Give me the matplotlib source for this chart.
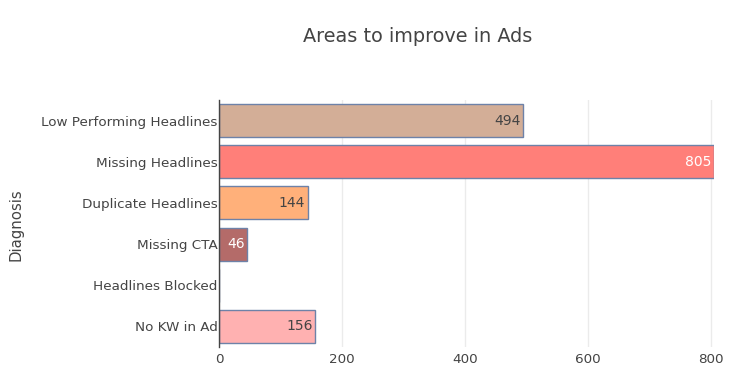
import matplotlib
matplotlib.use("Agg")
import matplotlib.pyplot as plt

categories = ["Low Performing Headlines", "Missing Headlines", "Duplicate Headlines",
              "Missing CTA", "Headlines Blocked", "No KW in Ad"]
values = [494, 805, 144, 46, 0, 156]
colors = ["#D3AE97", "#FF7F79", "#FFB07A", "#B46B69", "#FFB1B1", "#FFB1B1"]
text_colors = ["#444444", "white", "#444444", "white", "#444444", "#444444"]
xticks = [0, 200, 400, 600, 800]

plt.rcParams['font.family'] = ['DejaVu Sans']
fig = plt.figure(figsize=(7.49, 3.90), dpi=100)
W, H = 749, 390
left, right, top, bottom = 219, 714, 100, 347
ax = fig.add_axes([left / W, 1 - bottom / H, (right - left) / W, (bottom - top) / H])

ypos = list(range(len(categories)))
ax.barh(ypos, values, height=0.8, color=colors, edgecolor="#6E82A8", linewidth=1.0, zorder=3)
for y, v, tc in zip(ypos, values, text_colors):
    if v > 0:
        ax.text(v - 4, y, str(v), ha="right", va="center", color=tc, fontsize=10, zorder=4)

ax.set_yticks(ypos)
ax.set_yticklabels(categories, fontsize=9.7, color="#444444")
ax.set_ylim(len(categories) - 0.5, -0.5)
ax.set_xlim(0, 805)
ax.set_xticks(xticks)
ax.set_xticklabels([str(t) for t in xticks], fontsize=9.7, color="#444444")
ax.tick_params(axis="y", length=0, pad=1)
ax.tick_params(axis="x", length=0, pad=4)
ax.grid(axis="x", color="#EBEBEB", linewidth=1, zorder=0)
for s in ["top", "right", "bottom"]:
    ax.spines[s].set_visible(False)
ax.spines["left"].set_color("#444444")
ax.spines["left"].set_linewidth(1)
ax.spines["left"].set_zorder(5)

fig.text(16 / W, 1 - 225 / H, "Diagnosis", rotation=90, ha="center", va="center",
         fontsize=10.7, color="#444444")
fig.text(418 / W, 1 - 37 / H, "Areas to improve in Ads", ha="center", va="center",
         fontsize=13.9, color="#444444")

fig.savefig("out.png", dpi=100)
